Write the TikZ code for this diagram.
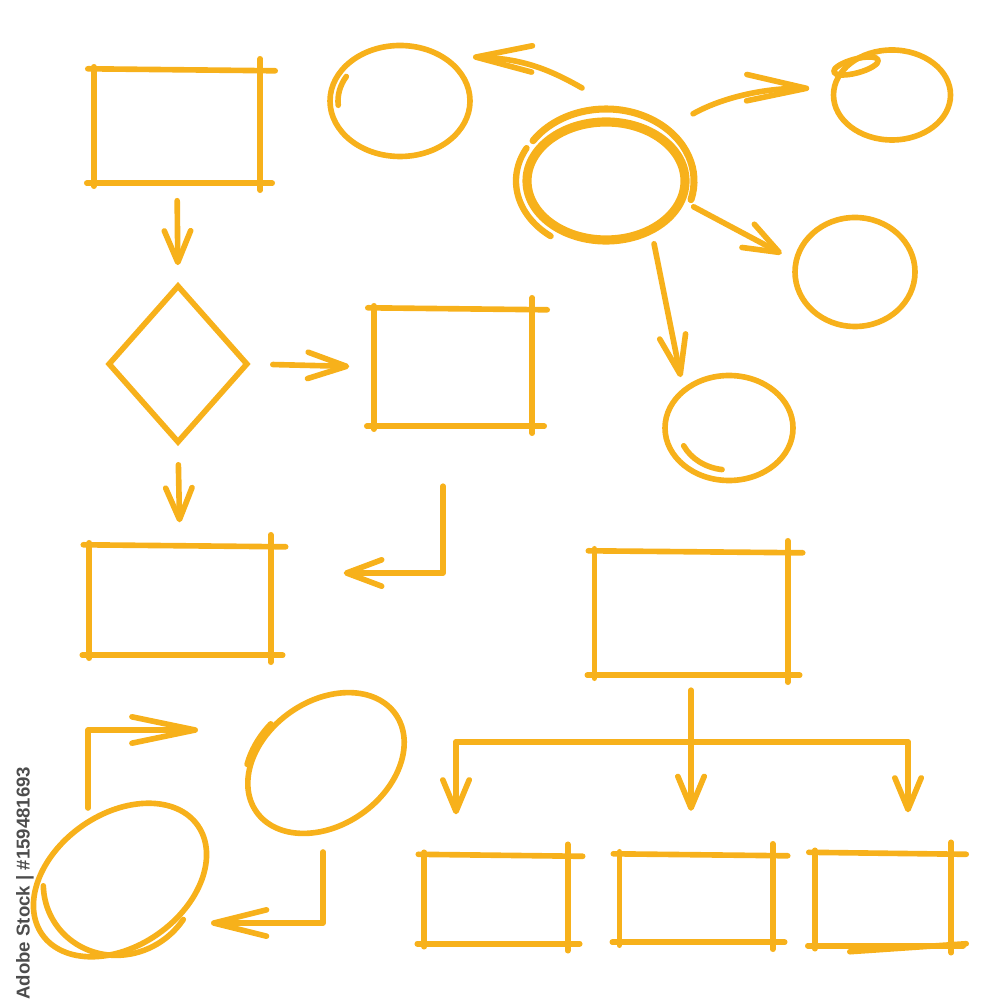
\documentclass[tikz,border=0pt]{standalone}
\usepackage{fontspec}
\setsansfont{Liberation Sans}
\usetikzlibrary{arrows.meta,shapes.geometric}

\definecolor{hand}{RGB}{247,177,27}

\tikzset{
  sketch/.style={draw=hand, line width=1.6pt, line cap=round, line join=round},
  arr/.style={sketch, -{Straight Barb[length=#1, width=7.5pt, round]}},
  arr/.default=9pt,
  boxnode/.style={rectangle, inner sep=0pt},
  ovalnode/.style={ellipse, draw=hand, line width=1.6pt, inner sep=0pt},
}

% рамка от руки по углам узла
\newcommand{\sketchbox}[1]{%
  \draw[sketch] ([shift={(-0.06,0)}]#1.north west) -- ([shift={(0.15,-0.02)}]#1.north east);
  \draw[sketch] ([shift={(0,0.02)}]#1.north west) -- ([shift={(0,-0.03)}]#1.south west);
  \draw[sketch] ([shift={(0,0.1)}]#1.north east) -- ([shift={(0,-0.07)}]#1.south east);
  \draw[sketch] ([shift={(-0.07,0)}]#1.south west) -- ([shift={(0.12,0)}]#1.south east);
}

\begin{document}
\begin{tikzpicture}
  \useasboundingbox (0,0) rectangle (10,-10);

  % блоки
  \node[boxnode, minimum width=1.65cm, minimum height=1.13cm] (bA) at (1.77,-1.26) {};
  \node[diamond, draw=hand, line width=1.6pt, inner sep=0pt,
        minimum width=1.40cm, minimum height=1.58cm] (dia) at (1.78,-3.64) {};
  \node[boxnode, minimum width=1.57cm, minimum height=1.17cm] (bB) at (4.53,-3.67) {};
  \node[boxnode, minimum width=1.80cm, minimum height=1.09cm] (bC) at (1.80,-6.00) {};
  \node[boxnode, minimum width=1.92cm, minimum height=1.23cm] (bD) at (6.91,-6.13) {};
  \node[boxnode, minimum width=1.42cm, minimum height=0.88cm] (bE1) at (4.96,-8.99) {};
  \node[boxnode, minimum width=1.52cm, minimum height=0.87cm] (bE2) at (6.96,-8.98) {};
  \node[boxnode, minimum width=1.35cm, minimum height=0.92cm] (bE3) at (8.83,-8.99) {};
  \sketchbox{bA}
  \sketchbox{bB}
  \sketchbox{bC}
  \sketchbox{bD}
  \sketchbox{bE1}
  \sketchbox{bE2}
  \sketchbox{bE3}
  \draw[sketch] ([shift={(0.35,-0.06)}]bE3.south west) -- ([shift={(0.15,0.02)}]bE3.south east);

  % овалы
  \node[ovalnode, line width=2.6pt, minimum width=1.58cm, minimum height=1.18cm] (hub) at (6.06,-1.81) {};
  \node[ovalnode, minimum width=1.40cm, minimum height=1.11cm] (oTL) at (4.00,-1.01) {};
  \node[ovalnode, minimum width=1.17cm, minimum height=0.90cm] (oTR) at (8.92,-0.95) {};
  \node[ovalnode, minimum width=1.20cm, minimum height=1.09cm] (oR) at (8.55,-2.72) {};
  \node[ovalnode, minimum width=1.28cm, minimum height=1.05cm] (oB) at (7.29,-4.28) {};
  \node[ovalnode, rotate=35, minimum width=1.70cm, minimum height=1.24cm] (oF) at (3.26,-7.63) {};
  \node[ovalnode, rotate=35, minimum width=1.90cm, minimum height=1.32cm] (oG) at (1.20,-8.80) {};

  % штрихи
  \draw[sketch, line width=2pt] (hub.center) ++(146:0.88 and 0.72)
    arc[start angle=146, end angle=-15, x radius=0.88cm, y radius=0.72cm];
  \draw[sketch, line width=1.8pt] (hub.center) ++(152:0.9 and 0.7)
    arc[start angle=152, end angle=232, x radius=0.9cm, y radius=0.7cm];
  \draw[sketch] (oTL.center) ++(150:0.62 and 0.49)
    arc[start angle=150, end angle=185, x radius=0.62cm, y radius=0.49cm];
  \coordinate (oTRloop) at (8.56,-0.66);
  \draw[sketch, rotate around={15:(oTRloop)}] (oTRloop) ellipse[x radius=0.23cm, y radius=0.07cm];
  \draw[sketch] (oB.center) ++(205:0.5 and 0.42)
    arc[start angle=205, end angle=262, x radius=0.5cm, y radius=0.42cm];
  \begin{scope}[shift={(oF.center)}, rotate=35]
    \draw[sketch] (105:0.88 and 0.66) arc[start angle=105, end angle=138, x radius=0.88cm, y radius=0.66cm];
  \end{scope}
  \begin{scope}[shift={(oG.center)}, rotate=35]
    \draw[sketch] (148:0.78 and 0.74) arc[start angle=148, end angle=292, x radius=0.78cm, y radius=0.74cm];
  \end{scope}

  % стрелки
  \draw[arr, shorten <=0.175cm, shorten >=0.17cm] (bA.south) -- (dia.north);
  \draw[arr=11pt, shorten <=0.22cm, shorten >=0.245cm] (dia.east) -- (bB.west);
  \draw[arr, shorten <=0.19cm, shorten >=0.225cm] (dia.south) -- (bC.north);
  \draw[arr=10pt, shorten <=0.6cm, shorten >=0.73cm] ([xshift=-0.1cm]bB.south) |- ([yshift=0.27cm]bC.east);

  \draw[arr=16pt] ([shift={(-0.24,0.93)}]hub.center) to[bend right=14] ([shift={(0.73,0.44)}]oTL.center);
  \draw[arr=17pt, shorten <=0.38cm, shorten >=0.22cm] (hub.42) to[bend left=15] (oTR.174);
  \draw[arr=10pt, shorten <=0.1cm, shorten >=0.135cm] (hub.-15) -- (oR.169);
  \draw[arr=11pt, shorten <=0.1cm, shorten >=0.11cm] (hub.-49) -- (oB.139);

  % дерево
  \coordinate (forkL) at (4.56,-7.42);
  \coordinate (forkR) at (9.08,-7.42);
  \draw[arr, shorten <=0.15cm, shorten >=0.43cm] (bD.south) -- (bD.south |- bE2.north);
  \draw[sketch] (forkL) -- (forkR);
  \draw[arr, shorten >=0.4cm] (forkL) -- (forkL |- bE1.north);
  \draw[arr, shorten >=0.4cm] (forkR) -- (forkR |- bE3.north);

  % петля внизу слева
  \coordinate (loopS) at (0.88,-8.08);
  \coordinate (loopE) at (1.98,-7.30);
  \coordinate (backS) at (3.23,-8.52);
  \coordinate (backE) at (2.11,-9.23);
  \draw[arr=18pt] (loopS) |- (loopE);
  \draw[arr=15pt] (backS) |- (backE);

  \node[rotate=90, anchor=east, text=black!70, inner sep=0pt,
        font={\fontsize{5.3}{6}\selectfont\sffamily\bfseries}] (stock) at (0.25,-7.66)
        {Adobe Stock | \#159481693};
\end{tikzpicture}
\end{document}
